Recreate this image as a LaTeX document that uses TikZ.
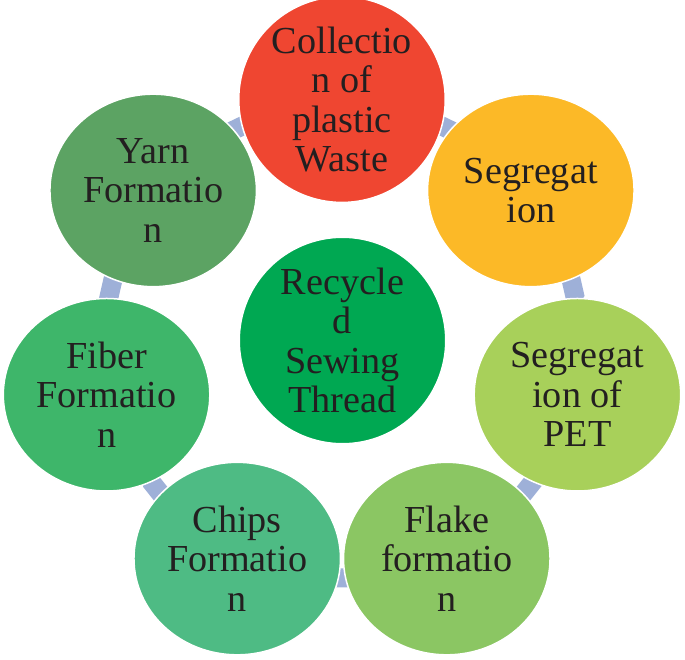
\documentclass[tikz,border=0pt]{standalone}
\usepackage{fontspec}
\setmainfont{Liberation Serif}
\usetikzlibrary{shapes.geometric}
\definecolor{cRed}{RGB}{239,70,49}
\definecolor{cOrange}{RGB}{252,185,39}
\definecolor{cPET}{RGB}{168,208,90}
\definecolor{cFlake}{RGB}{139,198,99}
\definecolor{cChips}{RGB}{78,187,132}
\definecolor{cFiber}{RGB}{62,182,106}
\definecolor{cYarn}{RGB}{92,163,99}
\definecolor{cCenter}{RGB}{0,168,82}
\definecolor{cArrow}{RGB}{158,176,216}
\definecolor{cText}{RGB}{35,31,32}
\tikzset{
  stagebox/.style={ellipse, minimum width=206.5pt, minimum height=192.5pt,
    inner sep=0pt, draw=white, line width=1.5pt, align=center,
    text=cText, font=\fontsize{38.2}{39.5}\selectfont},
  hubbox/.style={stagebox, minimum width=206.5pt, minimum height=206.5pt},
  linkshape/.style={fill=cArrow}
}
\begin{document}
\begin{tikzpicture}[x=1pt,y=1pt]
\useasboundingbox (0,0) rectangle (685,659);
\coordinate (hubc) at (342,318);
% connectors (drawn first, partly hidden by the stages)
\foreach \k in {0,...,6}{
  \pgfmathsetmacro\ang{64.2857-51.4286*\k}
  \begin{scope}[shift={(hubc)}, rotate=\ang]
    \fill[linkshape] (227.5,20) -- (246.5,20) -- (246.5,-10) -- (237,-20) -- (227.5,-10) -- cycle;
  \end{scope}
}
% stages
\node[stagebox, fill=cRed]    (s0) at ([shift={(90:241.5)}]hubc)        {Collectio\\n of\\plastic\\Waste};
\node[stagebox, fill=cOrange] (s1) at ([shift={(38.5714:241.5)}]hubc)   {Segregat\\ion};
\node[stagebox, fill=cPET]    (s2) at ([shift={(-12.8571:241.5)}]hubc)  {Segregat\\ion of\\PET};
\node[stagebox, fill=cFlake]  (s3) at ([shift={(-64.2857:241.5)}]hubc)  {Flake\\formatio\\n};
\node[stagebox, fill=cChips]  (s4) at ([shift={(-115.7143:241.5)}]hubc) {Chips\\Formatio\\n};
\node[stagebox, fill=cFiber]  (s5) at ([shift={(-167.1429:241.5)}]hubc) {Fiber\\Formatio\\n};
\node[stagebox, fill=cYarn]   (s6) at ([shift={(-218.5714:241.5)}]hubc) {Yarn\\Formatio\\n};
\node[hubbox, fill=cCenter]   (hub) at (342.5,318.5) {Recycle\\d\\Sewing\\Thread};
\end{tikzpicture}
\end{document}
